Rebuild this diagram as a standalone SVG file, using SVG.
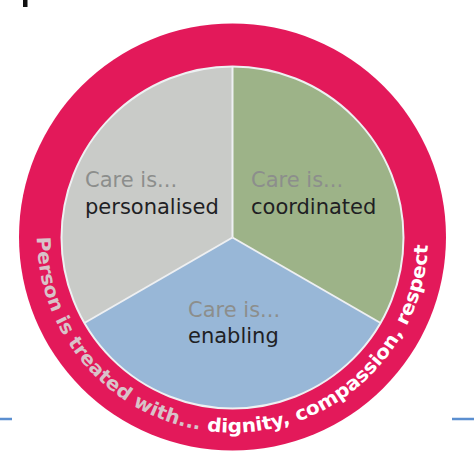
<svg xmlns="http://www.w3.org/2000/svg" width="474" height="467" viewBox="0 0 474 467">
<style>
.lbl{font-family:"DejaVu Sans","Liberation Sans",sans-serif;font-size:21px}
.care{fill:#8c8e8c}
.main{fill:#1f1f24}
.ring{font-family:"DejaVu Sans","Liberation Sans",sans-serif;font-size:19px;font-weight:bold}
.div{stroke:#eef0f2;stroke-width:2;fill:none}
</style>
<defs>
<path id="ringPath" d="M 37 237 A 195.5 195.5 0 0 0 428 237"/>
</defs>
<rect width="474" height="467" fill="#ffffff"/>
<rect x="23" y="0" width="4.5" height="7" fill="#111"/>
<line x1="0" y1="419" x2="12" y2="419" stroke="#5b8fd0" stroke-width="2.5"/>
<line x1="452" y1="419" x2="474" y2="419" stroke="#5b8fd0" stroke-width="2.5"/>
<g id="ring">
<circle cx="232.5" cy="237" r="213.5" fill="#e3195a"/>
<text class="ring"><textPath href="#ringPath" textLength="606" lengthAdjust="spacingAndGlyphs"><tspan fill="#d8c3c9">Person is treated with... </tspan><tspan fill="#ffffff">dignity, compassion, respect</tspan></textPath></text>
</g>
<g id="personalised">
<path d="M232.5,237.5 L232.5,66.5 A171,171 0 0 0 84.4,323 Z" fill="#c9cbc8"/>
<text class="lbl care" x="85" y="187">Care is...</text>
<text class="lbl main" x="85" y="214">personalised</text>
</g>
<g id="coordinated">
<path d="M232.5,237.5 L232.5,66.5 A171,171 0 0 1 380.6,323 Z" fill="#9db388"/>
<text class="lbl care" x="251" y="187">Care is...</text>
<text class="lbl main" x="251" y="214">coordinated</text>
</g>
<g id="enabling">
<path d="M232.5,237.5 L380.6,323 A171,171 0 0 1 84.4,323 Z" fill="#98b7d7"/>
<text class="lbl care" x="188" y="317">Care is...</text>
<text class="lbl main" x="188" y="343">enabling</text>
</g>
<g id="connectors">
<line class="div" x1="232.5" y1="237.5" x2="232.5" y2="66.5"/>
<line class="div" x1="232.5" y1="237.5" x2="84.4" y2="323"/>
<line class="div" x1="232.5" y1="237.5" x2="380.6" y2="323"/>
<circle class="div" cx="232.5" cy="237.5" r="171" stroke-width="1.5"/>
</g>
</svg>
